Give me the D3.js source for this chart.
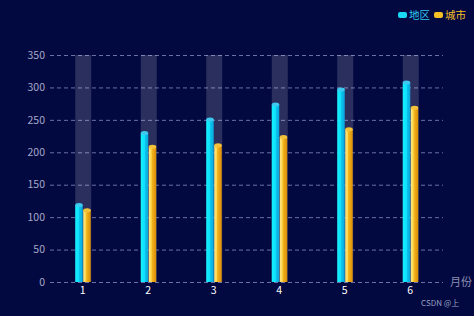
<!DOCTYPE html>
<html lang="en">
<head>
<meta charset="UTF-8">
<title>Bar chart</title>
<script src="https://cdn.jsdelivr.net/npm/d3@7"></script>
<style>
  html, body { margin: 0; padding: 0; background: #020840; }
  svg { display: block; font-family: "Noto Sans CJK SC", "Noto Sans", sans-serif; }
</style>
</head>
<body>
<div id="chart"></div>
<script>
// data
var months = ["1", "2", "3", "4", "5", "6"];
var regionValues = [121, 232, 253, 276, 299, 310];
var cityValues = [113, 211, 213, 226, 238, 271];
var yTicks = [0, 50, 100, 150, 200, 250, 300, 350];
var seriesNames = ["地区", "城市"];
var shadowMax = 350;

var width = 474, height = 316;
var margin = {top: 55, right: 31, bottom: 34, left: 50};

var svg = d3.select("#chart").append("svg")
    .attr("width", width)
    .attr("height", height);

svg.append("rect").attr("width", width).attr("height", height).attr("fill", "#020840");

var defs = svg.append("defs");
function hGrad(id, stops) {
    var g = defs.append("linearGradient").attr("id", id)
        .attr("x1", "0").attr("x2", "1").attr("y1", "0").attr("y2", "0");
    stops.forEach(function (s) {
        g.append("stop").attr("offset", s[0]).attr("stop-color", s[1]);
    });
}
hGrad("gCyan", [[0, "#13f2ff"], [0.5, "#0fe0fb"], [0.55, "#0bc6f0"], [1, "#0aa6dc"]]);
hGrad("gGold", [[0, "#ffe98a"], [0.35, "#fcd54a"], [0.4, "#f6b821"], [1, "#d88c06"]]);

var x = d3.scaleBand().domain(months)
    .range([margin.left, width - margin.right]);
var y = d3.scaleLinear().domain([0, 350])
    .range([height - margin.bottom, margin.top]);

// grid lines (dashed, including the base line)
svg.append("g").selectAll("line").data(yTicks).enter().append("line")
    .attr("x1", margin.left).attr("x2", width - margin.right)
    .attr("y1", function (d) { return y(d) + 0.5; })
    .attr("y2", function (d) { return y(d) + 0.5; })
    .attr("stroke", "#6b70a6")
    .attr("stroke-dasharray", "4,3")
    .attr("stroke-width", 1);

// y labels
svg.append("g").selectAll("text").data(yTicks).enter().append("text")
    .attr("x", margin.left - 5)
    .attr("y", function (d) { return y(d); })
    .attr("dy", "0.35em")
    .attr("text-anchor", "end")
    .attr("fill", "#a6a9c9")
    .attr("font-size", 10.5)
    .text(function (d) { return d; });

// x labels
svg.append("g").selectAll("text").data(months).enter().append("text")
    .attr("x", function (d) { return x(d) + x.bandwidth() / 2; })
    .attr("y", height - margin.bottom + 12)
    .attr("text-anchor", "middle")
    .attr("fill", "#ffffff")
    .attr("font-size", 10.5)
    .text(function (d) { return d; });

svg.append("text")
    .attr("x", width - margin.right + 7)
    .attr("y", y(0) + 4)
    .attr("fill", "#8a8db0")
    .attr("font-size", 11)
    .text("月份");

var barW = 7.5;
var shadowW = 16;

// shadow bars
svg.append("g").selectAll("rect").data(months).enter().append("rect")
    .attr("x", function (d) { return x(d) + x.bandwidth() / 2 - barW; })
    .attr("y", y(shadowMax))
    .attr("width", shadowW)
    .attr("height", y(0) - y(shadowMax))
    .attr("fill", "#ffffff")
    .attr("fill-opacity", 0.16);

function drawSeries(values, offset, grad, capColor) {
    var g = svg.append("g");
    months.forEach(function (m, i) {
        var bx = x(m) + x.bandwidth() / 2 + offset;
        var top = y(values[i]);
        g.append("rect")
            .attr("x", bx).attr("y", top + 1.5)
            .attr("width", barW).attr("height", y(0) - top - 1.5)
            .attr("fill", "url(#" + grad + ")");
        g.append("ellipse")
            .attr("cx", bx + barW / 2).attr("cy", top + 1.5)
            .attr("rx", barW / 2).attr("ry", 2)
            .attr("fill", capColor);
    });
}
drawSeries(regionValues, -barW, "gCyan", "#3ec9f0");
drawSeries(cityValues, 0.5, "gGold", "#f2c23a");

// legend
var legend = svg.append("g");
var legendItems = [
    {name: seriesNames[0], color: "#18d8f4", text: "#2fc8f0", x: 398},
    {name: seriesNames[1], color: "#f5bf26", text: "#f5bf26", x: 434}
];
legendItems.forEach(function (it) {
    legend.append("rect")
        .attr("x", it.x).attr("y", 12)
        .attr("width", 9).attr("height", 6).attr("rx", 2)
        .attr("fill", it.color);
    legend.append("text")
        .attr("x", it.x + 11).attr("y", 15)
        .attr("dy", "0.35em")
        .attr("fill", it.text)
        .attr("font-size", 10.5)
        .text(it.name);
});

// watermark
svg.append("text")
    .attr("x", 421).attr("y", 306)
    .attr("fill", "#9aa0c4")
    .attr("font-size", 8)
    .text("CSDN @上");
</script>
</body>
</html>
